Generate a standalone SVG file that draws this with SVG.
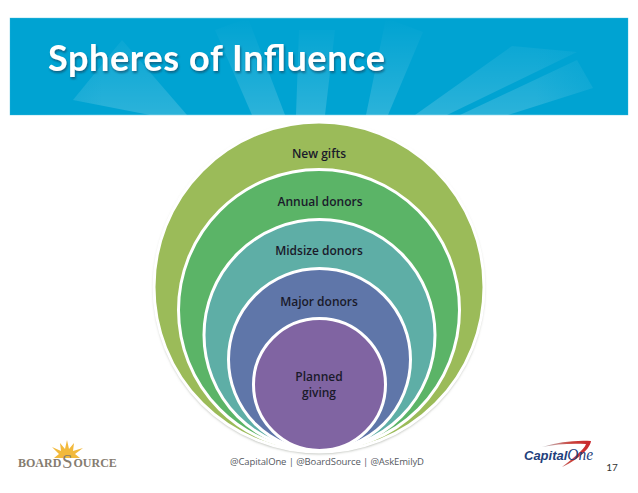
<svg xmlns="http://www.w3.org/2000/svg" width="638" height="493" viewBox="0 0 638 493">
<style>
text{font-family:"Lato","Open Sans","Liberation Sans",sans-serif}
.ring{stroke:#fff;stroke-width:3}
.lb{font-family:"Open Sans","Liberation Sans",sans-serif;font-size:12px;font-weight:600;fill:#1a1a2a;text-anchor:middle}
.serif{font-family:"Liberation Serif",serif;fill:#857c70}
</style>
<defs>
<linearGradient id="fade" gradientUnits="userSpaceOnUse" x1="0" y1="18" x2="0" y2="115"><stop offset="0" stop-color="#fff" stop-opacity="0"/><stop offset="1" stop-color="#fff" stop-opacity="0.17"/></linearGradient>
<linearGradient id="side" x1="0" y1="0" x2="1" y2="0"><stop offset="0" stop-color="#00a3d2" stop-opacity="0.8"/><stop offset="0.15" stop-color="#00a3d2" stop-opacity="0"/><stop offset="0.85" stop-color="#00a3d2" stop-opacity="0"/><stop offset="1" stop-color="#00a3d2" stop-opacity="0.8"/></linearGradient>
<filter id="sh" x="-5%" y="-20%" width="110%" height="150%"><feDropShadow dx="1" dy="2" stdDeviation="1.200" flood-color="#0a4a66" flood-opacity="0.7"/></filter>
<filter id="blur" x="-5%" y="-5%" width="110%" height="110%"><feGaussianBlur stdDeviation="1.500"/></filter>
<linearGradient id="cap" x1="0" y1="0" x2="1" y2="0"><stop offset="0" stop-color="#c4cbd0"/><stop offset="0.6" stop-color="#c9413a"/><stop offset="1" stop-color="#c9262c"/></linearGradient>
</defs>
<rect width="638" height="493" fill="#fff"/>
<g id="banner">
<rect x="10" y="18" width="618" height="97" fill="#00a3d2" stroke="#8ad8ec" stroke-width="0.600"/>
<g fill="url(#fade)">
<polygon points="299,30 335,30 325,115 296,115"/>
<polygon points="248,18 285,115 252,115 215,30"/>
<polygon points="122,40 187,115 150,115 73,100"/>
<polygon points="386,18 366,115 388,115 423,32"/>
<polygon points="512,46 415,115 447,115 577,52"/>
<polygon points="593,88 508,115 460,115 577,60"/>
</g>
<rect x="10" y="18" width="618" height="97" fill="url(#side)"/>
<text x="48" y="71" font-size="36" textLength="337" font-weight="700" fill="#fff" filter="url(#sh)">Spheres of Influence</text>
</g>
<circle cx="319" cy="288.500" r="165" fill="#9a9f94" filter="url(#blur)"/>
<g id="new-gifts"><circle class="ring" cx="319" cy="287" r="165" fill="#9bbb59"/><text class="lb" x="319" y="158">New gifts</text></g>
<g id="annual-donors"><circle class="ring" cx="319" cy="310" r="140.500" fill="#5bb467"/><text class="lb" x="320" y="206">Annual donors</text></g>
<g id="midsize-donors"><circle class="ring" cx="319.500" cy="335" r="115.500" fill="#5eaea6"/><text class="lb" x="319" y="255">Midsize donors</text></g>
<g id="major-donors"><circle class="ring" cx="319.500" cy="359.500" r="91" fill="#5f76a9"/><text class="lb" x="319" y="306">Major donors</text></g>
<g id="planned-giving"><circle class="ring" cx="319.500" cy="384.500" r="66" fill="#8064a2"/><text class="lb" x="319" y="381">Planned</text><text class="lb" x="319" y="397">giving</text></g>
<g id="boardsource-logo">
<polygon fill="#f2b93b" points="67,440 69,449 74,443 73,451 83,448 75,454 80,458 54,458 59,454 52,447 61,451 60,443 65,449"/>
<text class="serif" x="18" y="467" font-size="12" font-weight="700">BOARD</text>
<text class="serif" x="62" y="468" font-size="19">S</text>
<text class="serif" x="73.500" y="467" font-size="12" font-weight="700">OURCE</text>
</g>
<text id="handles" x="230" y="465" font-size="9.500" fill="#55595f" textLength="194" style="font-family:'Open Sans',sans-serif">@CapitalOne | @BoardSource | @AskEmilyD</text>
<g id="capital-one-logo">
<path d="M542 447C558 442 576 440 591 441C590 450 574 462 562 467C572 459 584 450 586 444C572 443 556 444 542 447Z" fill="url(#cap)"/>
<text x="524" y="460" font-size="13.500" font-weight="700" font-style="italic" fill="#1f3f7c" textLength="69" lengthAdjust="spacingAndGlyphs" style="font-family:'Liberation Sans',sans-serif">Capital<tspan font-size="16" font-weight="400" style="font-family:'Liberation Serif',serif">One</tspan></text>
</g>
<text id="page" x="612" y="471" font-size="10" text-anchor="middle" fill="#333">17</text>
</svg>
